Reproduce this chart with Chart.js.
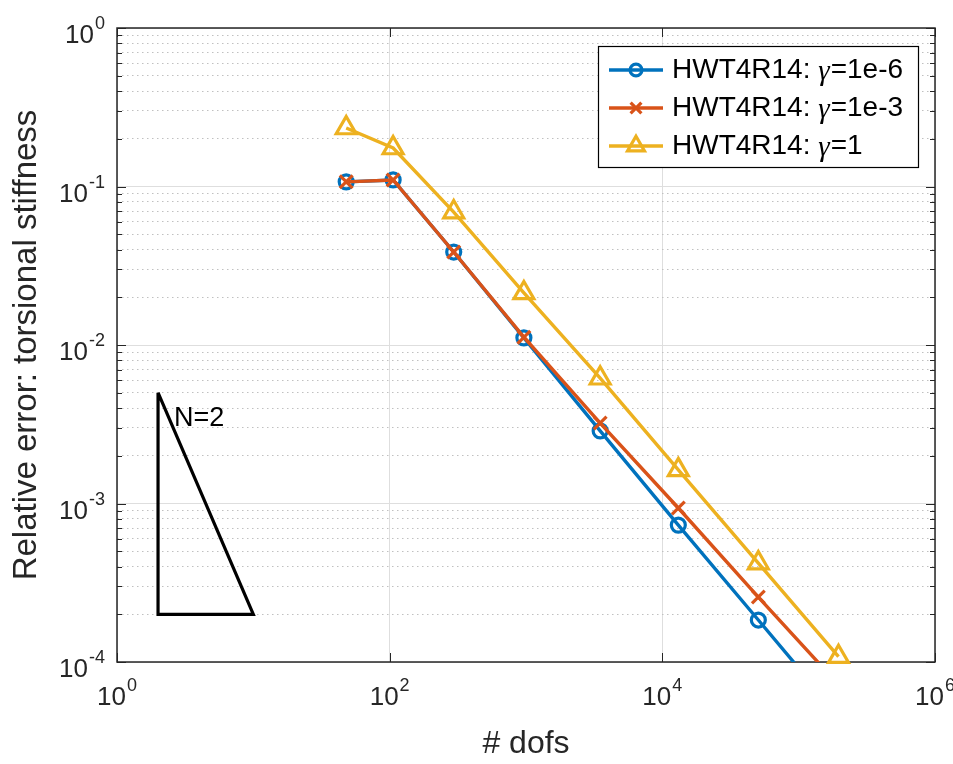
<!DOCTYPE html>
<html>
<head>
<meta charset="utf-8">
<script src="https://cdn.jsdelivr.net/npm/chart.js@4.4.1/dist/chart.umd.min.js"></script>
<style>
  html, body { margin: 0; padding: 0; background: #fff; }
  #wrap { width: 953px; height: 764px; }
</style>
</head>
<body>
<div id="wrap"><canvas id="myChart"></canvas></div>
<script>
"use strict"

// Data

const dofs = [48, 106, 295, 965, 3500, 13100, 50600, 196000];
const errGammaSmall = [0.107, 0.110, 0.0386, 0.0111, 0.00287, 0.000731, 0.000184, 0.000046];
const errGammaMid = [0.107, 0.110, 0.0386, 0.0112, 0.00322, 0.000937, 0.000257, 0.000072];
const errGammaOne = [0.234, 0.175, 0.069, 0.0213, 0.00617, 0.00163, 0.000421, 0.000108];

const gammaLabels = ['1e-6', '1e-3', '1'];

const xTicks = [1, 1e2, 1e4, 1e6];
const yTicks = [1e-4, 1e-3, 1e-2, 1e-1, 1];
const yMinorSteps = [2, 3, 4, 5, 6, 7, 8, 9];

// slope triangle
const slopeX = [2, 2, 10, 2];
const slopeY = [5e-3, 2e-4, 2e-4, 5e-3];
const slopeText = 'N=2';
const slopeTextAt = [2.62, 3.45e-3];


const FONT = "'Liberation Sans', Arial, sans-serif";
const INK = '#262626';
const colors = ['#0072BD', '#D95319', '#EDB120'];
const markers = [
    {style: 'circle', radius: 7},
    {style: 'crossRot', radius: 9},
    {style: 'triangle', radius: 11.5}
];

const yMinorTicks = [];
yTicks.slice(0, -1).forEach(d => yMinorSteps.forEach(m => yMinorTicks.push(d * m)));

const toPoints = (xs, ys) => xs.map((x, i) => ({x: x, y: ys[i]}));

function series(i, values, order, clip) {
    return {
        label: 'HWT4R14: γ=' + gammaLabels[i],
        data: toPoints(dofs, values),
        showLine: true,
        borderColor: colors[i],
        borderWidth: 3.4,
        pointStyle: markers[i].style,
        pointRadius: markers[i].radius,
        pointBorderWidth: 3.2,
        pointBorderColor: colors[i],
        pointBackgroundColor: 'rgba(0,0,0,0)',
        order: order,
        clip: clip
    };
}

// superscript tick label, base text baseline at y
function drawPow(ctx, exp, x, y, align) {
    ctx.font = '26px ' + FONT;
    const wb = ctx.measureText('10').width;
    ctx.font = '18px ' + FONT;
    const we = ctx.measureText(exp).width;
    const total = wb + 1 + we;
    const left = align === 'right' ? x - total : x - total / 2;
    ctx.textAlign = 'left';
    ctx.textBaseline = 'alphabetic';
    ctx.font = '26px ' + FONT;
    ctx.fillText('10', left, y);
    ctx.font = '18px ' + FONT;
    ctx.fillText(exp, left + wb + 1, y - 14);
}

function drawMarker(ctx, style, r, x, y) {
    ctx.beginPath();
    if (style === 'circle') {
        ctx.arc(x, y, r, 0, Math.PI * 2);
    } else if (style === 'crossRot') {
        const o = Math.cos(Math.PI / 4) * r;
        ctx.moveTo(x - o, y - o); ctx.lineTo(x + o, y + o);
        ctx.moveTo(x + o, y - o); ctx.lineTo(x - o, y + o);
    } else {
        let rad = 0;
        ctx.moveTo(x + Math.sin(rad) * r, y - Math.cos(rad) * r);
        rad += Math.PI * 2 / 3;
        ctx.lineTo(x + Math.sin(rad) * r, y - Math.cos(rad) * r);
        rad += Math.PI * 2 / 3;
        ctx.lineTo(x + Math.sin(rad) * r, y - Math.cos(rad) * r);
        ctx.closePath();
    }
    ctx.stroke();
}

const axesFrame = {
    id: 'axesFrame',
    beforeDatasetsDraw(chart) {
        const {ctx, chartArea: a, scales} = chart;
        const line = (x1, y1, x2, y2) => {
            ctx.beginPath(); ctx.moveTo(x1, y1); ctx.lineTo(x2, y2); ctx.stroke();
        };
        ctx.save();
        ctx.strokeStyle = INK;
        ctx.lineWidth = 1;
        yTicks.forEach(v => {
            const y = Math.round(scales.y.getPixelForValue(v)) + 0.5;
            line(a.left, y, a.left + 9, y);
            line(a.right, y, a.right - 9, y);
        });
        yMinorTicks.forEach(v => {
            const y = Math.round(scales.y.getPixelForValue(v)) + 0.5;
            line(a.left, y, a.left + 5, y);
            line(a.right, y, a.right - 5, y);
        });
        xTicks.forEach(v => {
            const x = Math.round(scales.x.getPixelForValue(v)) + 0.5;
            line(x, a.bottom, x, a.bottom - 9);
            line(x, a.top, x, a.top + 9);
        });
        ctx.lineWidth = 1.5;
        ctx.strokeRect(a.left, a.top, a.right - a.left, a.bottom - a.top);
        ctx.restore();
    },
    afterDraw(chart) {
        const {ctx, chartArea: a, scales} = chart;
        ctx.save();
        ctx.fillStyle = INK;

        // tick labels
        xTicks.forEach(v => {
            drawPow(ctx, String(Math.round(Math.log10(v))), scales.x.getPixelForValue(v), a.bottom + 43, 'center');
        });
        yTicks.forEach(v => {
            drawPow(ctx, String(Math.round(Math.log10(v))), a.left - 12, scales.y.getPixelForValue(v) + 15, 'right');
        });

        // axis titles
        ctx.font = '32px ' + FONT;
        ctx.textAlign = 'center';
        ctx.textBaseline = 'alphabetic';
        ctx.fillText('# dofs', (a.left + a.right) / 2, 753);
        ctx.save();
        ctx.font = '33px ' + FONT;
        ctx.translate(36, (a.top + a.bottom) / 2);
        ctx.rotate(-Math.PI / 2);
        ctx.fillText('Relative error: torsional stiffness', 0, 0);
        ctx.restore();

        // slope label
        ctx.fillStyle = '#000';
        ctx.font = '27px ' + FONT;
        ctx.textAlign = 'left';
        ctx.textBaseline = 'middle';
        ctx.fillText(slopeText, scales.x.getPixelForValue(slopeTextAt[0]), scales.y.getPixelForValue(slopeTextAt[1]));

        // legend
        const boxW = 320, boxH = 121, rowH = 38;
        const bx = a.right - 17 - boxW, by = a.top + 18;
        ctx.fillStyle = '#fff';
        ctx.fillRect(bx, by, boxW, boxH);
        ctx.strokeStyle = '#000';
        ctx.lineWidth = 1.2;
        ctx.strokeRect(bx + 0.5, by + 0.5, boxW, boxH);
        chart.data.datasets.slice(0, 3).forEach((ds, i) => {
            const y = by + 24 + i * rowH;
            ctx.strokeStyle = ds.borderColor;
            ctx.lineWidth = ds.borderWidth;
            ctx.beginPath(); ctx.moveTo(bx + 11, y); ctx.lineTo(bx + 65, y); ctx.stroke();
            ctx.lineWidth = ds.pointBorderWidth;
            drawMarker(ctx, markers[i].style, markers[i].radius * 0.85, bx + 38, y);
            ctx.fillStyle = '#000';
            ctx.textBaseline = 'middle';
            ctx.font = '28px ' + FONT;
            let tx = bx + 74;
            ctx.fillText('HWT4R14: ', tx, y);
            tx += ctx.measureText('HWT4R14: ').width;
            ctx.font = "italic 29px 'Liberation Serif', serif";
            ctx.fillText('γ', tx, y + 2);
            tx += ctx.measureText('γ').width + 1;
            ctx.font = '28px ' + FONT;
            ctx.fillText('=' + gammaLabels[i], tx, y);
        });
        ctx.restore();
    }
};

const myChart = new Chart(document.getElementById('myChart').getContext('2d'), {
    type: 'scatter',
    data: {
        datasets: [
            series(0, errGammaSmall, 3),
            series(1, errGammaMid, 2),
            series(2, errGammaOne, 1, false),
            {
                label: 'slope',
                data: toPoints(slopeX, slopeY),
                showLine: true,
                borderColor: '#000',
                borderWidth: 3.2,
                pointRadius: 0,
                order: 0
            }
        ]
    },
    options: {
        responsive: true,
        maintainAspectRatio: false,
        animation: false,
        devicePixelRatio: 1,
        layout: {padding: {top: 28, right: 18, left: 0, bottom: 0}},
        plugins: {
            legend: {display: false},
            tooltip: {enabled: false}
        },
        scales: {
            x: {
                type: 'logarithmic',
                min: 1,
                max: 1e6,
                afterBuildTicks: s => { s.ticks = xTicks.map(v => ({value: v})); },
                afterFit: s => { s.height = 102; },
                ticks: {display: false},
                border: {display: false},
                grid: {color: '#dedede', lineWidth: 1, drawTicks: false}
            },
            y: {
                type: 'logarithmic',
                position: 'left',
                min: 1e-4,
                max: 1,
                afterBuildTicks: s => { s.ticks = yTicks.map(v => ({value: v})); },
                afterFit: s => { s.width = 117; },
                ticks: {display: false},
                border: {display: false},
                grid: {color: '#dedede', lineWidth: 1, drawTicks: false}
            },
            yMinor: {
                type: 'logarithmic',
                position: 'right',
                min: 1e-4,
                max: 1,
                afterBuildTicks: s => { s.ticks = yMinorTicks.map(v => ({value: v})); },
                afterFit: s => { s.width = 0; },
                ticks: {display: false},
                border: {display: false, dash: [1.5, 3.5]},
                grid: {color: '#c0c0c0', lineWidth: 1, drawTicks: false}
            }
        }
    },
    plugins: [axesFrame]
});
</script>
</body>
</html>
